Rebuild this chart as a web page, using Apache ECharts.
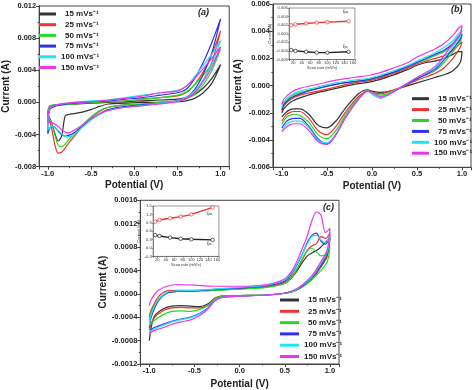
<!DOCTYPE html>
<html><head><meta charset="utf-8">
<script src="https://cdn.jsdelivr.net/npm/echarts@6/dist/echarts.min.js"></script>
<style>html,body{margin:0;padding:0;background:#fff}#c{width:474px;height:390px}</style>
</head><body><div id="c"></div>
<script>
// ---------- data ----------
const rateNames = ['15 mVs⁻¹','25 mVs⁻¹','50 mVs⁻¹','75 mVs⁻¹','100 mVs⁻¹','150 mVs⁻¹'];
const colors = ['#333333','#f2322f','#22dd22','#3030ee','#22e2f2','#ee33ee'];

// Panel (a): potential sweep (V) and currents (A)
const potA = [-1.0,-0.98,-0.9,-0.7,-0.5,-0.3,-0.1,0.1,0.3,0.5,0.6,0.7,0.8,0.9,1.0,
              0.9,0.8,0.7,0.6,0.5,0.3,0.1,-0.1,-0.3,-0.4,-0.5,-0.6,-0.7,-0.76,-0.8,-0.84,-0.88,-0.92,-0.96,-1.0];
const curA15 = [-0.0015,-0.0005,-0.0003,-0.0002,-0.0001,0.0,0.0001,0.0002,0.0003,0.0004,0.0006,0.0010,0.0018,0.0030,0.0047,
                0.0024,0.0012,0.0005,0.0002,0.0001,0.0,0.0,-0.0001,-0.0002,-0.0005,-0.0009,-0.0012,-0.0014,-0.0015,-0.0017,-0.0042,-0.0048,-0.0038,-0.0024,-0.0015];
const curA25 = [-0.0017,-0.0006,-0.0004,-0.0002,0.0,0.0001,0.0002,0.0004,0.0006,0.0008,0.0012,0.0022,0.0038,0.0060,0.0089,
                0.0050,0.0028,0.0012,0.0005,0.0002,0.0,-0.0002,-0.0003,-0.0006,-0.0011,-0.0019,-0.0030,-0.0043,-0.0051,-0.0057,-0.0062,-0.0063,-0.0052,-0.0030,-0.0017];
const curA50 = [-0.0017,-0.0005,-0.0003,-0.0002,0.0,0.0001,0.0002,0.0004,0.0006,0.0009,0.0013,0.0022,0.0034,0.0048,0.0066,
                0.0040,0.0022,0.0010,0.0004,0.0002,0.0,-0.0002,-0.0003,-0.0006,-0.0010,-0.0018,-0.0028,-0.0040,-0.0047,-0.0052,-0.0055,-0.0053,-0.0040,-0.0025,-0.0017];
const curA75 = [-0.0039,-0.0010,-0.0004,-0.0001,0.0001,0.0002,0.0004,0.0006,0.0009,0.0012,0.0016,0.0030,0.0050,0.0075,0.0104,
                0.0062,0.0035,0.0016,0.0006,0.0002,-0.0001,-0.0003,-0.0005,-0.0009,-0.0014,-0.0021,-0.0030,-0.0038,-0.0041,-0.0042,-0.0040,-0.0036,-0.0031,-0.0030,-0.0039];
const curA100 = [-0.0035,-0.0008,-0.0003,0.0,0.0002,0.0003,0.0006,0.0009,0.0012,0.0015,0.0020,0.0032,0.0046,0.0060,0.0077,
                 0.0048,0.0028,0.0014,0.0006,0.0002,-0.0001,-0.0004,-0.0006,-0.0010,-0.0015,-0.0022,-0.0031,-0.0040,-0.0043,-0.0042,-0.0039,-0.0035,-0.0031,-0.0030,-0.0035];
const curA150 = [-0.0025,-0.0007,-0.0003,0.0,0.0001,0.0003,0.0005,0.0008,0.0012,0.0014,0.0020,0.0030,0.0042,0.0055,0.0069,
                 0.0044,0.0026,0.0012,0.0005,0.0001,-0.0002,-0.0004,-0.0006,-0.0010,-0.0014,-0.0020,-0.0028,-0.0035,-0.0038,-0.0037,-0.0034,-0.0030,-0.0027,-0.0025,-0.0025];

// Panel (b)
const potB = [-1.0,-0.98,-0.9,-0.8,-0.6,-0.4,-0.2,0.0,0.2,0.4,0.5,0.6,0.7,0.8,0.9,0.96,1.0,
              0.98,0.9,0.8,0.7,0.5,0.3,0.2,0.1,0.0,-0.05,-0.15,-0.3,-0.4,-0.5,-0.6,-0.7,-0.8,-0.86,-0.92,-0.96,-1.0];
const curB15 = [-0.0020,-0.0017,-0.0012,-0.0009,-0.0005,-0.0002,0.0001,0.0003,0.0007,0.0012,0.0015,0.0017,0.0018,0.0020,0.0023,0.0025,0.0025,
                0.0017,0.0011,0.0008,0.0006,0.0002,-0.0002,-0.0004,-0.0005,-0.0004,-0.0003,-0.0006,-0.0017,-0.0026,-0.0031,-0.0029,-0.0021,-0.0017,-0.0017,-0.0018,-0.0020,-0.0023];
const curB25 = [-0.0019,-0.0015,-0.0010,-0.0007,-0.0004,-0.0001,0.0002,0.0004,0.0008,0.0013,0.0016,0.0018,0.0020,0.0022,0.0026,0.0030,0.0032,
                0.0028,0.0020,0.0013,0.0009,0.0004,-0.0002,-0.0004,-0.0006,-0.0005,-0.0004,-0.0008,-0.0020,-0.0030,-0.0036,-0.0033,-0.0024,-0.0019,-0.0019,-0.0020,-0.0022,-0.0026];
const curB50 = [-0.0017,-0.0013,-0.0008,-0.0005,-0.0002,0.0001,0.0003,0.0005,0.0009,0.0014,0.0017,0.0019,0.0022,0.0025,0.0030,0.0035,0.0038,
                0.0032,0.0025,0.0017,0.0011,0.0005,-0.0002,-0.0005,-0.0007,-0.0005,-0.0004,-0.0009,-0.0022,-0.0033,-0.0039,-0.0036,-0.0027,-0.0022,-0.0021,-0.0022,-0.0024,-0.0028];
const curB75 = [-0.0018,-0.0014,-0.0009,-0.0006,-0.0002,0.0001,0.0003,0.0005,0.0009,0.0014,0.0017,0.0020,0.0023,0.0026,0.0031,0.0036,0.0038,
                0.0034,0.0027,0.0019,0.0012,0.0005,-0.0002,-0.0006,-0.0009,-0.0006,-0.0004,-0.0010,-0.0024,-0.0036,-0.0043,-0.0039,-0.0030,-0.0024,-0.0024,-0.0025,-0.0027,-0.0031];
const curB100 = [-0.0016,-0.0012,-0.0007,-0.0004,-0.0001,0.0002,0.0004,0.0006,0.0010,0.0015,0.0018,0.0021,0.0024,0.0028,0.0033,0.0038,0.0041,
                 0.0036,0.0029,0.0020,0.0013,0.0006,-0.0002,-0.0006,-0.0009,-0.0006,-0.0004,-0.0010,-0.0024,-0.0036,-0.0042,-0.0040,-0.0031,-0.0026,-0.0026,-0.0027,-0.0029,-0.0033];
const curB150 = [-0.0014,-0.0010,-0.0005,-0.0002,0.0001,0.0004,0.0006,0.0008,0.0012,0.0017,0.0021,0.0024,0.0027,0.0031,0.0037,0.0042,0.0044,
                 0.0038,0.0031,0.0022,0.0014,0.0006,-0.0002,-0.0006,-0.0008,-0.0005,-0.0004,-0.0010,-0.0024,-0.0036,-0.0043,-0.0041,-0.0033,-0.0028,-0.0028,-0.0029,-0.0031,-0.0034];

// Panel (c)
const potC = [-1.0,-0.98,-0.9,-0.8,-0.7,-0.5,-0.3,0.0,0.3,0.5,0.6,0.7,0.75,0.8,0.85,0.9,0.95,1.0,
              0.97,0.9,0.8,0.7,0.6,0.5,0.3,0.0,-0.2,-0.28,-0.35,-0.45,-0.55,-0.65,-0.75,-0.85,-0.95,-1.0];
const curC15 = [-0.00042,-0.00030,-0.00010,0.00002,0.00004,0.00005,0.00006,0.00009,0.00012,0.00018,0.00032,0.00055,0.00065,0.00070,0.00074,0.00080,0.00088,0.00095,
                0.00065,0.00046,0.00026,0.00013,0.00005,0.00001,-0.00002,-0.00003,-0.00004,-0.00008,-0.00017,-0.00022,-0.00021,-0.00020,-0.00021,-0.00026,-0.00040,-0.00080];
const curC25 = [-0.00040,-0.00028,-0.00005,0.00005,0.00006,0.00006,0.00007,0.00010,0.00013,0.00020,0.00035,0.00060,0.00075,0.00082,0.00086,0.00098,0.00095,0.00104,
                0.00068,0.00048,0.00027,0.00013,0.00005,0.00001,-0.00002,-0.00003,-0.00004,-0.00009,-0.00019,-0.00024,-0.00024,-0.00023,-0.00024,-0.00029,-0.00042,-0.00060];
const curC50 = [-0.00045,-0.00032,-0.00010,0.00002,0.00004,0.00005,0.00006,0.00008,0.00011,0.00018,0.00033,0.00062,0.00074,0.00078,0.00072,0.00065,0.00068,0.00080,
                0.00055,0.00040,0.00024,0.00012,0.00004,0.00001,-0.00002,-0.00003,-0.00004,-0.00010,-0.00020,-0.00027,-0.00030,-0.00029,-0.00030,-0.00036,-0.00046,-0.00055];
const curC75 = [-0.00058,-0.00040,-0.00012,0.00002,0.00004,0.00005,0.00007,0.00010,0.00014,0.00022,0.00040,0.00070,0.00088,0.00100,0.00104,0.00090,0.00085,0.00098,
                0.00070,0.00050,0.00028,0.00014,0.00005,0.00001,-0.00002,-0.00004,-0.00006,-0.00012,-0.00024,-0.00034,-0.00040,-0.00043,-0.00047,-0.00052,-0.00058,-0.00062];
const curC100 = [-0.00055,-0.00036,-0.00010,0.00003,0.00005,0.00006,0.00008,0.00011,0.00015,0.00024,0.00042,0.00070,0.00086,0.00098,0.00100,0.00092,0.00087,0.00100,
                 0.00072,0.00052,0.00029,0.00015,0.00005,0.00001,-0.00002,-0.00004,-0.00006,-0.00012,-0.00025,-0.00035,-0.00041,-0.00044,-0.00048,-0.00054,-0.00060,-0.00065];
const curC150 = [-0.00020,-0.00010,0.00006,0.00013,0.00016,0.00015,0.00013,0.00013,0.00016,0.00026,0.00045,0.00080,0.00100,0.00125,0.00140,0.00135,0.00105,0.00112,
                 0.00075,0.00055,0.00031,0.00016,0.00006,0.00001,-0.00002,-0.00004,-0.00006,-0.00013,-0.00026,-0.00038,-0.00045,-0.00048,-0.00052,-0.00058,-0.00063,-0.00068];

// Insets: peak current vs scan rate
const scanRates = [15,25,50,75,100,150];
const ipaB = [0.0020,0.0022,0.0024,0.0026,0.0027,0.0029];
const ipcB = [-0.0038,-0.0040,-0.0042,-0.0044,-0.0044,-0.0042];
const ipaC = [0.94,1.00,1.06,1.12,1.20,1.45];
const ipcC = [0.46,0.43,0.37,0.33,0.31,0.29];

// ---------- chart ----------
const FF = "'Liberation Sans', Arial, sans-serif";
const pair = (p, c) => p.map((x, i) => [x, c[i]]);
const panels = [
  {pot: potA, curs: [curA15,curA25,curA50,curA75,curA100,curA150]},
  {pot: potB, curs: [curB15,curB25,curB50,curB75,curB100,curB150]},
  {pot: potC, curs: [curC15,curC25,curC50,curC75,curC100,curC150]}
];
const mainGrids = [
  {left: 33.4, top: 6, width: 195.8, height: 160.7},
  {left: 272.9, top: 2.7, width: 199.8, height: 164.6},
  {left: 140.3, top: 200.3, width: 198.7, height: 164}
];
const yCfg = [
  {min: -0.008, max: 0.012, interval: 0.004, dec: 3, gap: 25},
  {min: -0.006, max: 0.006, interval: 0.002, dec: 3, gap: 30},
  {min: -0.0012, max: 0.0016, interval: 0.0004, dec: 4, gap: 30}
];
const xNameGap = [14, 14, 15];
const isMult = (v, s) => Math.abs(v / s - Math.round(v / s)) < 1e-6;
const labStyle = {fontSize: 7.5, fontWeight: 'bold', color: '#222', fontFamily: FF};
const nameStyle = {fontSize: 10, fontWeight: 'bold', color: '#222', fontFamily: FF};

const grid = [], xAxis = [], yAxis = [], series = [];
mainGrids.forEach((g, k) => {
  grid.push(Object.assign({show: true, borderColor: '#444', borderWidth: 1, backgroundColor: 'transparent'}, g));
  xAxis.push({
    gridIndex: k, type: 'value', min: -1.1, max: 1.1, splitNumber: 4,
    axisLine: {onZero: false, lineStyle: {color: '#444'}}, splitLine: {show: false},
    axisTick: {length: 3, lineStyle: {color: '#444'}},
    minorTick: {show: true, splitNumber: 2, length: 1.5, lineStyle: {color: '#444'}},
    axisLabel: Object.assign({margin: 3, formatter: v => isMult(v, 0.5) ? v.toFixed(1) : ''}, labStyle),
    name: 'Potential (V)', nameLocation: 'middle', nameGap: xNameGap[k], nameTextStyle: nameStyle
  });
  const yc = yCfg[k];
  yAxis.push({
    gridIndex: k, type: 'value', min: yc.min, max: yc.max, interval: yc.interval,
    axisLine: {show: true, onZero: false, lineStyle: {color: '#444'}}, splitLine: {show: false},
    axisTick: {length: 3, lineStyle: {color: '#444'}},
    minorTick: {show: true, splitNumber: 2, length: 1.5, lineStyle: {color: '#444'}},
    axisLabel: Object.assign({margin: 3, formatter: v => (Math.abs(v) < 1e-12 ? 0 : v).toFixed(yc.dec)}, labStyle),
    name: 'Current (A)', nameLocation: 'middle', nameGap: yc.gap, nameTextStyle: nameStyle
  });
  panels[k].curs.forEach((c, j) => {
    series.push({
      type: 'line', name: rateNames[j], xAxisIndex: k, yAxisIndex: k,
      data: pair(panels[k].pot, c), smooth: 0.3, showSymbol: false, symbol: 'none',
      lineStyle: {width: 1.2, color: colors[j]}, itemStyle: {color: colors[j]}, z: 2
    });
  });
});

// insets
const insetGrids = [
  {left: 289.1, top: 8, width: 65.8, height: 51.5},
  {left: 153.1, top: 206, width: 65.8, height: 50.4}
];
const insetY = [
  {min: -0.006, max: 0.006, interval: 0.002, dec: 3, name: 'Current (A)'},
  {min: -0.3, max: 1.5, interval: 0.3, dec: 1, name: 'Current (mA)'}
];
const insetData = [[ipaB, ipcB], [ipaC, ipcC]];
const smallLab = {fontSize: 4, color: '#333', fontFamily: FF};
insetGrids.forEach((g, m) => {
  const gi = 3 + m;
  grid.push(Object.assign({show: true, borderColor: '#555', borderWidth: 0.6, backgroundColor: '#fff', z: 5}, g));
  xAxis.push({
    gridIndex: gi, type: 'value', min: 10, max: 165, splitNumber: 8, z: 6,
    axisLine: {onZero: false, lineStyle: {color: '#555', width: 0.6}}, splitLine: {show: false},
    axisTick: {length: 1.5, lineStyle: {color: '#555', width: 0.6}},
    axisLabel: Object.assign({margin: 1.5, formatter: v => isMult(v, 20) ? String(v) : ''}, smallLab),
    name: 'Scan rate (mV/s)', nameLocation: 'middle', nameGap: 6, nameTextStyle: smallLab
  });
  const iy = insetY[m];
  yAxis.push({
    gridIndex: gi, type: 'value', min: iy.min, max: iy.max, interval: iy.interval, z: 6,
    axisLine: {show: true, onZero: false, lineStyle: {color: '#555', width: 0.6}}, splitLine: {show: false},
    axisTick: {length: 1.5, lineStyle: {color: '#555', width: 0.6}},
    axisLabel: Object.assign({margin: 1.5, formatter: v => (Math.abs(v) < 1e-12 ? 0 : v).toFixed(iy.dec)}, smallLab),
    name: iy.name, nameLocation: 'middle', nameGap: m === 0 ? 13 : 8, nameTextStyle: smallLab
  });
  const [ipa, ipc] = insetData[m];
  [[ipa, '#f03030'], [ipc, '#222222']].forEach(([vals, col], q) => {
    series.push({
      type: 'line', name: 'inset' + m + q, xAxisIndex: gi, yAxisIndex: gi, z: 7,
      data: pair(scanRates, vals), smooth: m === 1 && q === 0 ? 0.3 : false,
      symbol: 'circle', symbolSize: 3.5, showSymbol: true,
      lineStyle: {width: 1.4, color: col}, itemStyle: {color: '#fff', borderColor: col, borderWidth: 0.7}
    });
  });
});

const legendBase = {
  orient: 'vertical', icon: 'rect', itemWidth: 17, itemHeight: 3, padding: 0,
  data: rateNames, selectedMode: false,
  formatter: n => (n.length < 9 ? '\u2002' : '') + n,
  textStyle: {fontSize: 8, fontWeight: 'bold', color: '#222', fontFamily: FF, lineHeight: 10}
};
const legend = [
  Object.assign({}, legendBase, {left: 39, top: 9, itemGap: 0.7}),
  Object.assign({}, legendBase, {left: 412, top: 93.7, itemGap: 0.9}),
  Object.assign({}, legendBase, {left: 280, top: 295, itemGap: 1.3, itemWidth: 19})
];

const tStyle = (txt, x, y, size, italic) => ({
  type: 'text', left: x, top: y, z: 20, silent: true,
  style: {text: txt, fill: '#222', font: (italic ? 'italic ' : '') + 'bold ' + size + 'px ' + FF}
});
const sub = (x, y, s) => ({type: 'text', left: x, top: y, z: 20, silent: true,
  style: {text: '{i|I}{s|' + s + '}', rich: {i: {fontSize: 5, fontStyle: 'italic', fill: '#222'}, s: {fontSize: 3.5, fill: '#222', padding: [2, 0, 0, 0]}}}});
const graphic = [
  tStyle('(a)', 198, 8, 9, true),
  tStyle('(b)', 451, 5, 9, true),
  tStyle('(c)', 323, 203, 9, true),
  sub(343, 9, 'pa'), sub(343, 44, 'pc'), sub(207, 211, 'pa'), sub(207, 241, 'pc')
];

const chart = echarts.init(document.getElementById('c'), null, {renderer: 'canvas'});
chart.setOption({
  animation: false, backgroundColor: '#fff',
  textStyle: {fontFamily: FF},
  grid, xAxis, yAxis, series, legend, graphic
});
</script></body></html>
